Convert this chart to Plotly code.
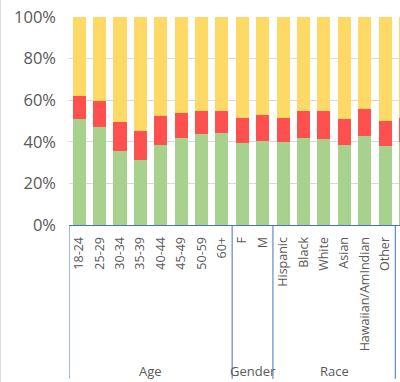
import plotly.graph_objects as go

categories = ["18-24", "25-29", "30-34", "35-39", "40-44", "45-49", "50-59", "60+",
              "F", "M", "Hispanic", "Black", "White", "Asian", "Hawaiian/AmIndian", "Other", "Total"]
green_vals = [50.9, 47.0, 35.5, 31.4, 38.7, 41.8, 43.8, 44.2, 39.4, 40.6, 39.7, 41.8, 41.3, 38.7, 42.6, 38.1, 39.7]
red_vals = [11.3, 12.5, 14.1, 14.0, 13.5, 12.1, 10.9, 10.8, 12.1, 12.5, 11.8, 12.9, 13.7, 12.2, 13.1, 11.8, 11.8]
yellow_vals = [37.8, 40.5, 50.4, 54.6, 47.8, 46.1, 45.3, 45.0, 48.5, 46.9, 48.5, 45.3, 45.0, 49.1, 44.3, 50.1, 48.5]

groups = ["Age", "Gender", "Race"]
group_sizes = [8, 2, 6]

FONT = "Open Sans"
TXT = "#595959"
BLUE = "#4472C4"

idx = list(range(len(categories)))

fig = go.Figure()
for vals, col, name in [(green_vals, "#A9D18E", "Green"),
                        (red_vals, "#FF5050", "Red"),
                        (yellow_vals, "#FFD966", "Yellow")]:
    fig.add_trace(go.Bar(x=idx, y=[v / 100 for v in vals], marker_color=col,
                         marker_line_width=0, width=0.64, name=name))

shapes = []
annotations = []
start = 0
for g, n in zip(groups, group_sizes):
    left = start - 0.5
    right = start + n - 0.5
    for xb in ([left, right] if start == 0 else [right]):
        shapes.append(dict(type="line", xref="x", yref="paper", x0=xb, x1=xb,
                           y0=0, y1=-0.74, line=dict(color=BLUE, width=1)))
    annotations.append(dict(x=(left + right) / 2, y=-0.70, xref="x", yref="paper",
                            text=g, showarrow=False, yanchor="middle",
                            font=dict(family=FONT, size=13, color=TXT)))
    start += n

# light border at left edge of the chart
shapes.append(dict(type="line", xref="paper", yref="paper", x0=-0.207, x1=-0.207,
                   y0=-0.76, y1=1.09, line=dict(color="#D9D9D9", width=1)))

fig.update_layout(
    barmode="stack",
    width=400, height=382,
    margin=dict(l=69, r=0, t=17, b=157, autoexpand=False),
    paper_bgcolor="white", plot_bgcolor="white",
    showlegend=False,
    shapes=shapes,
    annotations=annotations,
    xaxis=dict(range=[-0.5, 15.73], tickvals=idx, ticktext=categories,
               tickangle=-90, tickfont=dict(family=FONT, size=12.5, color=TXT),
               showline=True, linecolor=BLUE, linewidth=1, ticks="",
               showgrid=False, zeroline=False, ticklabelstandoff=6,
               automargin=False),
    yaxis=dict(range=[0, 1], dtick=0.2, tickformat=".0%",
               tickfont=dict(family=FONT, size=16.5, color=TXT),
               gridcolor="#D9D9D9", gridwidth=1, zeroline=False,
               showline=False, ticks="", ticklabelstandoff=12,
               automargin=False),
)

fig.write_html("out.html", config={"displayModeBar": False},
               post_script="document.body.style.margin='0';document.body.style.overflow='hidden';")
